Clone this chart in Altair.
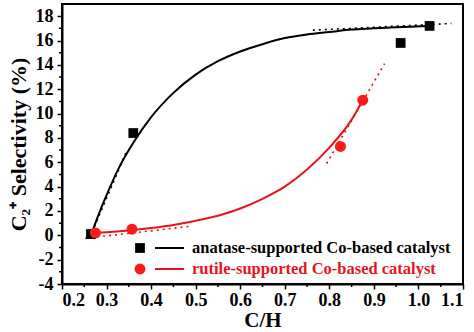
import altair as alt
import pandas as pd

# Measured points
anatase_x = [0.265, 0.360, 0.960, 1.025]
anatase_y = [0.1, 8.4, 15.8, 17.2]
rutile_x = [0.275, 0.357, 0.825, 0.875]
rutile_y = [0.2, 0.5, 7.3, 11.1]

# Fitted curves
a_fit_x = [0.265, 0.28, 0.30, 0.33, 0.36, 0.40, 0.45, 0.50, 0.55, 0.60, 0.65, 0.70, 0.75, 0.80, 0.85, 0.90, 0.95, 1.03]
a_fit_y = [0.0, 1.5, 3.3, 5.7, 7.6, 9.7, 11.7, 13.2, 14.3, 15.1, 15.7, 16.2, 16.5, 16.7, 16.9, 17.0, 17.1, 17.2]
r_fit_x = [0.275, 0.30, 0.35, 0.40, 0.45, 0.50, 0.55, 0.60, 0.65, 0.70, 0.75, 0.80, 0.85, 0.875]
r_fit_y = [0.2, 0.25, 0.4, 0.6, 0.85, 1.2, 1.6, 2.2, 3.0, 4.0, 5.4, 7.2, 9.5, 11.1]

# Dotted tangent lines
tangents = [
    ("a1", "black", 0.262, -0.2, 0.345, 6.9),
    ("a2", "black", 0.763, 16.85, 1.074, 17.4),
    ("r1", "red", 0.252, -0.25, 0.491, 0.75),
    ("r2", "red", 0.794, 5.9, 0.924, 14.1),
]

x_major = [0.2, 0.3, 0.4, 0.5, 0.6, 0.7, 0.8, 0.9, 1.0, 1.1]
x_minor = [0.25, 0.35, 0.45, 0.55, 0.65, 0.75, 0.85, 0.95, 1.05]
y_major = [-4, -2, 0, 2, 4, 6, 8, 10, 12, 14, 16, 18]
y_minor = [-3, -1, 1, 3, 5, 7, 9, 11, 13, 15, 17]

legend_labels = ["anatase-supported Co-based catalyst", "rutile-supported Co-based catalyst"]

FONT = "Liberation Serif"

xscale = alt.Scale(domain=[0.2, 1.1], nice=False, zero=False)
yscale = alt.Scale(domain=[-4, 19], nice=False, zero=False)

common = dict(
    grid=False, domainColor="black", domainWidth=2, tickColor="black", tickWidth=1.5, tickSize=5,
    labelFont=FONT, labelFontWeight="bold", labelFontSize=18, labelColor="black",
    labelOverlap=False,
    titleFont=FONT, titleFontWeight="bold", titleColor="black",
)
xaxis = alt.Axis(title="C/H", values=x_major, format=".1f", labelPadding=2,
                 titleFontSize=21, titlePadding=0, **common)
yaxis = alt.Axis(title="C₂⁺ Selectivity (%)", values=y_major, labelExpr="'' + datum.value",
                 labelPadding=4, titleFontSize=22, titlePadding=5, **common)

X = alt.X("x:Q", scale=xscale, axis=xaxis)
Y = alt.Y("y:Q", scale=yscale, axis=yaxis)

pts_a = pd.DataFrame({"x": anatase_x, "y": anatase_y})
pts_r = pd.DataFrame({"x": rutile_x, "y": rutile_y})
fit_a = pd.DataFrame({"x": a_fit_x, "y": a_fit_y})
fit_r = pd.DataFrame({"x": r_fit_x, "y": r_fit_y})
tan = pd.DataFrame(tangents, columns=["id", "color", "x", "y", "x2", "y2"])

fit_a_line = alt.Chart(fit_a).mark_line(color="black", strokeWidth=2, interpolate="monotone").encode(x=X, y=Y)
fit_r_line = alt.Chart(fit_r).mark_line(color="#e8141c", strokeWidth=2, interpolate="monotone").encode(x=X, y=Y)
tan_rules = alt.Chart(tan).mark_rule(strokeWidth=1.6, strokeDash=[2, 4]).encode(
    x=X, y=Y, x2="x2:Q", y2="y2:Q",
    color=alt.Color("color:N", scale=None),
)
pts_a_m = alt.Chart(pts_a).mark_square(size=95, color="black", opacity=1).encode(x=X, y=Y)
pts_r_m = alt.Chart(pts_r).mark_circle(size=120, color="#ff1a1a", opacity=1).encode(x=X, y=Y)

# minor ticks
xmin_df = pd.DataFrame({"x": x_minor})
ymin_df = pd.DataFrame({"y": y_minor})
xminor = alt.Chart(xmin_df).mark_rule(color="black", strokeWidth=1.5).encode(
    x=X, y=alt.value(281), y2=alt.value(283))
yminor = alt.Chart(ymin_df).mark_rule(color="black", strokeWidth=1.5).encode(
    y=Y, x=alt.value(-3), x2=alt.value(-1))

# custom legend
leg = pd.DataFrame({"label": legend_labels})
leg_sq = alt.Chart(leg.iloc[[0]]).mark_square(size=95, color="black", opacity=1).encode(x=alt.value(78), y=alt.value(244))
leg_ci = alt.Chart(leg.iloc[[1]]).mark_circle(size=120, color="#ff1a1a", opacity=1).encode(x=alt.value(78), y=alt.value(265))
leg_l1 = alt.Chart(leg.iloc[[0]]).mark_rule(color="black", strokeWidth=2).encode(x=alt.value(93), x2=alt.value(122), y=alt.value(244))
leg_l2 = alt.Chart(leg.iloc[[1]]).mark_rule(color="#e8141c", strokeWidth=2).encode(x=alt.value(93), x2=alt.value(122), y=alt.value(265))
leg_t1 = alt.Chart(leg.iloc[[0]]).mark_text(align="left", baseline="middle", font=FONT, fontWeight="bold", fontSize=16.5, color="black").encode(
    x=alt.value(130), y=alt.value(244), text="label:N")
leg_t2 = alt.Chart(leg.iloc[[1]]).mark_text(align="left", baseline="middle", font=FONT, fontWeight="bold", fontSize=16.5, color="#e8141c").encode(
    x=alt.value(130), y=alt.value(265), text="label:N")

chart = alt.layer(
    fit_a_line, fit_r_line, tan_rules, pts_a_m, pts_r_m, xminor, yminor,
    leg_sq, leg_ci, leg_l1, leg_l2, leg_t1, leg_t2,
).properties(
    width=401, height=280,
    autosize=alt.AutoSizeParams(type="none"),
    padding={"left": 62, "top": 4, "right": 11, "bottom": 48},
    background="white",
).configure_view(stroke="black", strokeWidth=2)

chart.save("out.html", embed_options={"renderer": "svg", "actions": False})
